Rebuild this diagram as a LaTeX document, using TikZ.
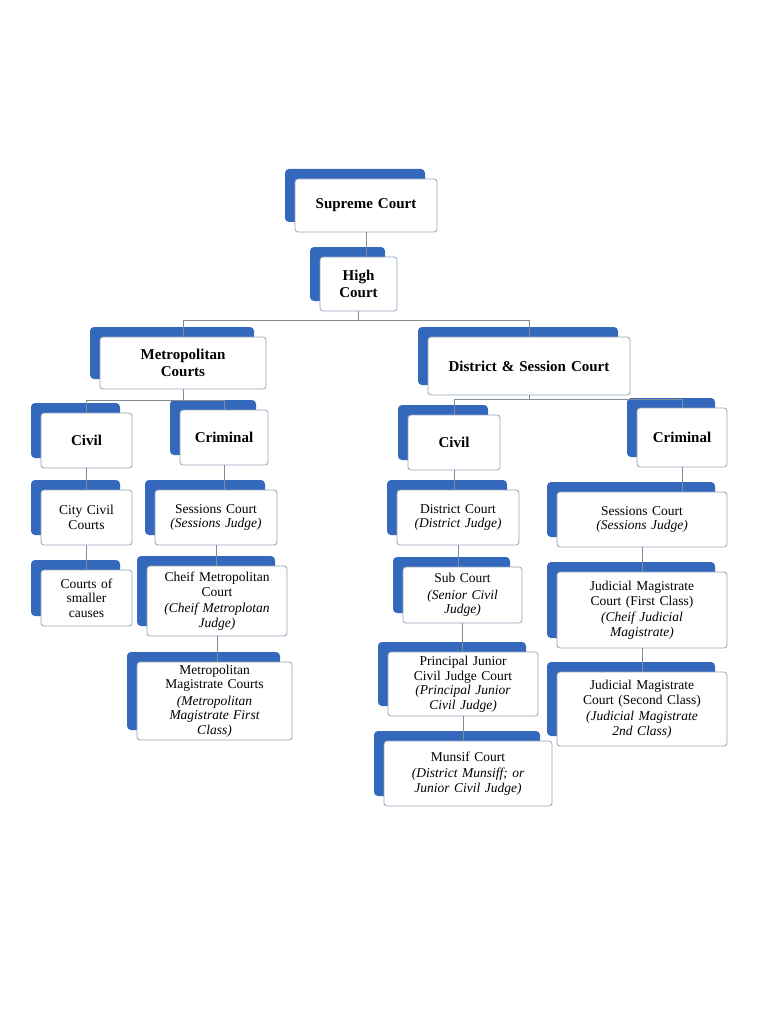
\documentclass[tikz,border=0pt]{standalone}
\usepackage{fontspec}
\setmainfont{Liberation Serif}
\definecolor{cblue}{RGB}{52,104,188}
\definecolor{cedge}{RGB}{150,165,185}
\definecolor{cline}{RGB}{130,140,150}
\tikzset{
  front/.style={draw=cedge, fill=white, rounded corners=3pt, inner sep=1pt, align=center, line width=0.8pt},
  back/.style={fill=cblue, rounded corners=4pt},
  conn/.style={draw=cline, line width=0.8pt},
  tt/.style={font=\fontsize{15}{17}\selectfont\bfseries},
  bt/.style={font=\fontsize{13.5}{14.5}\selectfont},
}
% #1 name, #2 x1, #3 y1, #4 x2, #5 y2, #6 style, #7 text
\newcommand{\court}[7]{%
  \fill[back] (#2-10,#3-10) rectangle (#4-12,#5-10);
  \node[front,#6, minimum width=#4-#2, minimum height=#5-#3, text width=#4-#2-4] (#1) at ({(#2+#4)/2},{(#3+#5)/2}) {#7};
}
\begin{document}
\begin{tikzpicture}[x=1pt,y=-1pt]
\useasboundingbox (0,0) rectangle (768,1024);
\fill[white] (0,0) rectangle (768,1024);
\coordinate (b1) at (0,320);
\coordinate (b2) at (0,400);
\coordinate (b3) at (0,399);
\court{sc}{295}{179}{437}{232}{tt}{Supreme Court}
\court{hc}{320}{257}{397}{311}{tt}{High\\Court}
\court{mc}{100}{337}{266}{389}{tt}{Metropolitan\\Courts}
\court{dc}{428}{337}{630}{395}{tt}{District \& Session Court}
\court{lciv}{41}{413}{132}{468}{tt}{Civil}
\court{lcri}{180}{410}{268}{465}{tt}{Criminal}
\court{ccc}{41}{490}{132}{545}{bt}{City Civil\\Courts}
\court{csc}{41}{570}{132}{626}{bt}{Courts of\\smaller\\causes}
\court{lses}{155}{490}{277}{545}{bt}{Sessions Court\\\textit{(Sessions Judge)}}
\court{cmc}{147}{566}{287}{636}{bt}{Cheif Metropolitan\\Court\\[2pt]\textit{(Cheif Metroplotan\\Judge)}}
\court{mmc}{137}{662}{292}{740}{bt}{Metropolitan\\Magistrate Courts\\[2pt]\textit{(Metropolitan\\Magistrate First\\Class)}}
\court{rciv}{408}{415}{500}{470}{tt}{Civil}
\court{rcri}{637}{408}{727}{467}{tt}{Criminal}
\court{dcc}{397}{490}{519}{545}{bt}{District Court\\\textit{(District Judge)}}
\court{sub}{403}{567}{522}{623}{bt}{Sub Court\\[2pt]\textit{(Senior Civil\\Judge)}}
\court{pjc}{388}{652}{538}{716}{bt}{Principal Junior\\Civil Judge Court\\\textit{(Principal Junior\\Civil Judge)}}
\court{mun}{384}{741}{552}{806}{bt}{Munsif Court\\[2pt]\textit{(District Munsiff; or\\Junior Civil Judge)}}
\court{rses}{557}{492}{727}{547}{bt}{Sessions Court\\\textit{(Sessions Judge)}}
\court{jm1}{557}{572}{727}{648}{bt}{Judicial Magistrate\\Court (First Class)\\[2pt]\textit{(Cheif Judicial\\Magistrate)}}
\court{jm2}{557}{672}{727}{746}{bt}{Judicial Magistrate\\Court (Second Class)\\[2pt]\textit{(Judicial Magistrate\\2nd Class)}}
\draw[conn] (sc.south) -- (hc.north -| sc.south);
\draw[conn] (hc.south) -- (hc.south |- b1);
\draw[conn] (mc.north) -- (mc.north |- b1) -| (dc.north);
\draw[conn] (lciv.north) -- (lciv.north |- b2) -| (lcri.north);
\draw[conn] (mc.south) -- (mc.south |- b2);
\draw[conn] (rciv.north) -- (rciv.north |- b3) -| (rcri.north);
\draw[conn] (dc.south) -- (dc.south |- b3);
\draw[conn] (lciv.south) -- (ccc.north);
\draw[conn] (ccc.south) -- (csc.north);
\draw[conn] (lcri.south) -- (lcri.south |- lses.north);
\draw[conn] (lses.south) -- (lses.south |- cmc.north);
\draw[conn] (cmc.south) -- (cmc.south |- mmc.north);
\draw[conn] (rciv.south) -- (rciv.south |- dcc.north);
\draw[conn] (dcc.south) -- (dcc.south |- sub.north);
\draw[conn] (sub.south) -- (sub.south |- pjc.north);
\draw[conn] (pjc.south) -- (pjc.south |- mun.north);
\draw[conn] (rcri.south) -- (rcri.south |- rses.north);
\draw[conn] (rses.south) -- (rses.south |- jm1.north);
\draw[conn] (jm1.south) -- (jm1.south |- jm2.north);
\end{tikzpicture}
\end{document}
